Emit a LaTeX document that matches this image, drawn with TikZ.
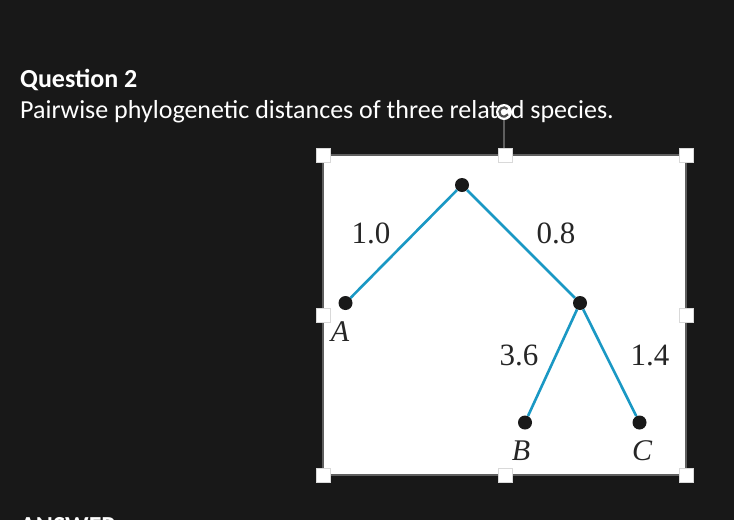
\documentclass[tikz,border=0pt]{standalone}
\usepackage{fontspec}
\setmainfont{Liberation Serif}
\newfontfamily\uifont{Carlito}
\definecolor{bg}{RGB}{24,24,24}
\definecolor{branch}{RGB}{26,152,196}
\definecolor{frame}{RGB}{95,95,95}
\begin{document}
\begin{tikzpicture}[x=1pt,y=-1pt,
  vert/.style={circle,fill=black!90,inner sep=0pt,minimum size=14pt},
  edge/.style={branch,line width=2.6pt},
  num/.style={font=\fontsize{31}{31}\selectfont,text=black!85,inner sep=0pt},
  leaf/.style={font=\fontsize{30}{30}\selectfont\itshape,text=black!85,inner sep=0pt},
  handle/.style={draw=black!15,fill=white,line width=0.4pt,minimum size=14pt,inner sep=0pt}]
\useasboundingbox (0,0) rectangle (734,520);
\fill[bg] (0,0) rectangle (734,520);
\begin{scope}
\clip (0,0) rectangle (734,520);
\node[anchor=base west,inner sep=0pt,text=white,font=\uifont\bfseries\fontsize{26}{26}\selectfont] (ans) at (20,534) {ANSWER};
\end{scope}
% titles
\node[anchor=base west,inner sep=0pt,text=white,font=\uifont\bfseries\fontsize{26}{26}\selectfont] (q) at (20,87) {Question 2};
\node[anchor=base west,inner sep=0pt,text=white,font=\uifont\fontsize{26}{26}\selectfont] (t) at (20,118) {Pairwise phylogenetic distances of three related species.};
% picture frame
\fill[white] (322,154) rectangle (687,476);
\draw[frame,line width=2.4pt] (323.2,155.2) rectangle (685.8,474.8);
% rotation handle
\coordinate (rt) at (504,120);
\coordinate (tm) at (504,154);
\draw[frame,line width=1.6pt] (rt) -- (tm);
\node[circle,fill=white,minimum size=16pt,inner sep=0pt] (rot) at (504,112) {};
\draw[frame!80!black,line width=2.2pt] ([shift={(40:4.6pt)}]rot.center) arc[start angle=40,end angle=330,radius=4.6pt];
% tree
\node[vert] (r) at (462,185) {};
\node[vert] (a) at (345.5,303) {};
\node[vert] (m) at (580,303) {};
\node[vert] (b) at (525,422.5) {};
\node[vert] (c) at (639.5,422.5) {};
\draw[edge] (r) -- (a);
\draw[edge] (r) -- (m);
\draw[edge] (m) -- (b);
\draw[edge] (m) -- (c);
\node[num] (l1) at (371,233) {1.0};
\node[num] (l2) at (556,233) {0.8};
\node[num] (l3) at (519,355) {3.6};
\node[num] (l4) at (650,355) {1.4};
\node[leaf] (na) at (340,332) {A};
\node[leaf] (nb) at (521,451) {B};
\node[leaf] (nc) at (642,451) {C};
% handles
\foreach \n/\x/\y in {h1/323/155,h2/505/155,h3/686/155,h4/323/315,h5/686/315,h6/323/475,h7/505/475,h8/686/475}
  \node[handle] (\n) at (\x,\y) {};
\end{tikzpicture}
\end{document}
